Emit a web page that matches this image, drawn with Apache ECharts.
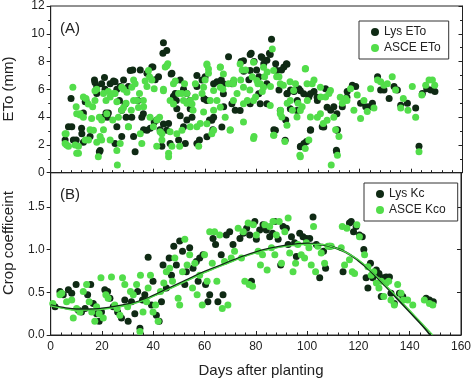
<!DOCTYPE html>
<html>
<head>
<meta charset="utf-8">
<script src="https://cdn.jsdelivr.net/npm/echarts@6/dist/echarts.min.js"></script>
<style>html,body{margin:0;padding:0;background:#fff}#c{width:474px;height:381px}</style>
</head>
<body>
<div id="c"></div>
<script>
// ---- DATA ----
const xTicks = [0, 20, 40, 60, 80, 100, 120, 140, 160];
const etoTicks = [0, 2, 4, 6, 8, 10, 12];
const kcTicks = [0.0, 0.5, 1.0, 1.5];

const lysETo = [
[5.6,2.35],[6.9,3.3],[7.9,5.35],[8.2,3.3],[8.8,2.35],[9.9,2.35],[12.1,2.8],[12.7,4.3],[13.4,5.1],[15.3,2.6],[17.0,6.67],[17.9,6.2],[18.9,1.5],[20.9,6.85],[21.5,4.3],[22.4,4.3],[23.1,6.4],[25.0,6.55],[25.7,6.0],[26.7,5.2],[27.6,2.6],[28.3,6.67],[29.3,4.0],[30.2,6.2],[31.9,7.4],[32.2,2.6],[32.8,1.5],[33.9,5.2],[34.8,7.4],[35.4,4.0],[36.1,3.1],[37.4,7.15],[38.7,3.2],[39.7,7.6],[40.6,6.7],[41.2,3.8],[42.5,3.1],[43.2,1.9],[43.6,8.6],[43.8,9.35],[45.1,8.8],[45.8,3.55],[46.4,2.1],[47.1,7.15],[47.7,5.5],[48.8,5.2],[49.7,2.35],[50.3,6.67],[51.6,6.0],[52.9,3.8],[54.0,5.2],[54.9,4.0],[56.8,6.2],[57.8,2.35],[58.8,6.67],[59.7,5.3],[60.7,5.2],[61.7,3.8],[63.0,3.1],[64.6,6.55],[66.3,6.67],[67.2,4.75],[69.1,8.35],[70.4,6.4],[71.7,4.5],
[74.0,8.0],[75.0,7.3],[77.0,6.7],[77.9,8.6],[79.0,8.0],[80.0,7.4],[80.9,6.9],[81.8,8.35],[82.8,7.85],[84.0,8.1],[85.0,8.6],[85.8,9.6],[86.7,3.1],[87.4,7.85],[88.7,5.95],[89.7,7.4],[90.6,7.6],[91.3,3.8],[91.6,7.85],[91.9,5.7],[93.2,5.95],[94.5,5.85],[95.8,5.2],[96.4,6.05],[97.1,1.9],[98.4,2.1],[99.4,2.25],[100.3,5.45],[101.0,3.1],[102.3,5.85],[103.6,5.2],[105.5,3.3],[106.8,6.05],[108.8,4.5],[110.0,4.75],[111.1,1.5],[111.4,3.1],[113.3,4.75],[115.2,5.85],[117.2,6.3],[118.5,6.2],[120.4,5.0],[122.4,4.75],[123.7,4.75],[125.0,5.0],[127.0,6.9],[128.2,5.95],[129.5,5.95],[131.5,5.35],[133.4,6.2],[134.7,5.95],[136.0,4.85],[138.6,5.0],[141.8,4.65],[143.1,1.9],[144.4,5.7],[146.1,6.05],[147.7,5.95],[149.3,5.85],
[12.0,3.2],[12.7,2.2],[13.7,5.2],[17.2,6.5],[17.9,5.7],[19.2,1.6],[19.8,6.4],[20.5,4.0],[21.1,6.0],[22.0,4.0],[24.4,6.6],[25.0,2.1],[25.7,3.3],[27.0,6.2],[27.6,4.5],[28.9,4.95],[30.9,7.35],[31.5,4.0],[36.0,4.25],[37.4,3.05],[39.3,7.6],[40.2,3.65],[41.9,6.9],[43.8,3.5],[45.1,3.05],[46.8,7.1],[48.4,5.7],[49.0,4.6],[50.3,4.1],[51.6,3.3],[52.3,2.1],[52.9,5.7],[54.2,4.6],[56.8,7.0],[56.8,2.1],
[60.0,6.9],[63.3,6.4],[67.1,6.4],[71.0,6.5],[74.9,8.06],[77.5,8.5],[77.5,7.35],[80.8,5.68],[81.4,4.96],[82.1,8.3],[84.0,6.4],[85.3,8.5],[87.9,7.35],[91.8,7.8],[91.8,5.68],[94.4,5.9],[97.0,5.9],[98.3,5.68],[59.6,5.32],[63.3,4.0],[67.1,5.68],[70.4,4.96],[73.6,4.48],[77.5,4.96],[84.0,4.96],[89.2,4.48],[93.1,4.6],[95.7,4.48],[100.9,5.68],[103.5,5.44],[107.4,4.72],[111.2,4.25],[115.1,5.44],[62.6,3.77],[66.5,3.29],[60.7,2.58],[87.3,3.05],[91.1,2.34],[97.0,1.86],[100.9,3.05],[106.1,3.29],[111.2,3.05],[111.0,1.62]
];
const asceETo = [
[5.6,2.1],[6.0,2.8],[6.9,1.9],[8.6,6.15],[9.9,4.75],[10.1,1.4],[10.8,1.9],[11.4,4.15],[12.7,4.0],[13.7,5.35],[14.7,2.35],[15.3,3.1],[16.3,4.75],[17.2,5.2],[17.9,6.0],[18.9,4.0],[19.8,2.35],[20.5,3.1],[21.5,5.2],[22.4,5.85],[23.1,2.35],[24.1,3.8],[25.0,5.7],[25.7,5.1],[25.9,0.55],[27.0,2.1],[27.6,4.5],[28.3,6.0],[29.3,5.0],[30.2,3.3],[31.3,4.5],[32.2,6.67],[33.5,5.2],[34.5,5.7],[35.4,2.1],[36.1,4.75],[37.4,6.2],[38.4,6.9],[39.3,6.67],[40.2,6.05],[41.2,1.9],[42.3,4.0],[43.2,2.8],[43.8,6.0],[44.5,7.6],[45.5,7.85],[45.8,1.4],[46.4,5.2],[47.1,1.9],[47.7,6.4],[49.0,2.8],[50.1,1.9],[51.0,5.7],[52.0,6.4],[52.9,5.0],[54.2,5.2],[55.3,4.5],[56.2,5.45],[57.5,1.9],[58.1,3.55],[58.8,5.7],[60.0,6.67],[60.7,7.75],[61.3,7.15],[62.6,2.8],[63.3,4.5],[64.6,5.2],[65.9,7.6],[66.9,6.0],[67.8,4.0],[69.1,6.4],[69.8,3.1],[71.1,6.67],[72.4,5.7],
[73.8,6.67],[74.4,7.4],[75.7,7.4],[76.4,5.2],[77.4,5.95],[78.3,6.9],[79.0,2.6],[79.6,5.45],[80.5,6.4],[81.5,6.4],[82.2,5.85],[83.1,6.9],[84.1,7.25],[85.4,6.2],[86.1,8.9],[86.7,2.7],[87.8,6.9],[88.7,6.9],[89.3,4.5],[90.4,6.3],[91.0,2.25],[91.9,5.0],[93.0,6.55],[93.9,4.5],[95.1,6.4],[96.1,5.0],[96.8,1.25],[97.7,4.75],[99.0,7.5],[99.7,5.2],[100.3,2.35],[101.6,6.4],[102.3,6.67],[103.6,4.0],[104.9,5.45],[105.9,3.55],[106.8,5.45],[108.1,5.7],[109.0,0.55],[110.0,4.0],[110.7,3.1],[111.4,1.25],[112.0,2.6],[113.3,5.0],[114.6,5.35],[116.5,6.05],[117.8,4.5],[119.1,5.6],[120.4,3.9],[121.7,5.2],[123.0,4.4],[124.3,6.05],[125.6,4.65],[127.0,6.67],[128.2,6.55],[129.5,6.3],[130.8,6.4],[132.7,6.9],[134.0,5.95],[136.0,4.65],[137.0,5.35],[138.8,4.5],[140.5,6.2],[141.8,4.0],[143.1,1.5],[144.2,5.6],[145.7,6.3],[147.0,6.67],[148.3,6.67],[149.2,6.3],
[5.6,2.8],[6.2,2.0],[9.5,2.0],[10.1,4.25],[10.8,1.4],[11.4,4.25],[12.7,5.45],[13.4,2.35],[14.6,4.95],[15.9,3.9],[16.6,3.05],[17.2,5.9],[17.9,2.2],[18.5,1.15],[19.2,2.6],[19.8,3.8],[20.5,5.7],[21.8,4.25],[23.1,5.45],[24.4,5.7],[25.7,1.6],[26.3,4.0],[27.6,6.15],[28.3,4.7],[29.6,5.8],[30.2,3.3],[31.5,6.15],[32.2,5.2],[32.8,6.4],[34.1,4.7],[34.8,2.8],[36.0,5.2],[36.7,6.6],[38.0,7.35],[38.6,4.0],[39.9,3.3],[41.2,3.8],[42.5,2.95],[43.2,2.35],[43.8,5.9],[45.1,7.7],[45.8,1.15],[46.4,2.95],[47.7,4.95],[48.4,6.6],[49.7,5.7],[51.0,3.05],[51.6,5.2],[52.9,5.7],[54.2,3.3],[54.9,4.95],[56.2,6.4],[56.8,3.3],
[60.7,7.83],[61.3,7.47],[65.9,7.59],[67.1,7.11],[73.6,7.83],[78.8,7.95],[82.7,7.59],[86.6,7.35],[98.9,7.47],[59.4,6.16],[63.3,5.92],[65.9,6.16],[71.0,6.4],[74.9,6.16],[80.1,6.63],[82.7,6.16],[89.2,6.4],[94.4,5.92],[99.6,6.4],[104.8,6.16],[108.7,5.92],[112.5,5.44],[115.1,5.2],[62.0,5.2],[65.9,4.72],[71.0,5.2],[74.9,4.96],[78.8,5.2],[85.3,4.84],[89.2,4.25],[93.1,5.2],[97.0,4.48],[100.9,4.01],[104.8,4.25],[107.4,3.77],[59.4,4.37],[60.7,3.53],[63.3,3.05],[69.7,3.05],[74.9,3.65],[78.8,2.46],[86.6,2.7],[89.8,4.01],[91.8,3.41],[95.7,4.01],[97.0,1.14],[98.9,1.74]
];
const lysKc = [
[1.7,0.33],[3.6,0.51],[4.9,0.47],[6.9,0.53],[8.2,0.49],[9.9,0.59],[10.8,0.29],[12.0,0.27],[13.4,0.31],[14.4,0.47],[15.6,0.59],[16.6,0.37],[17.9,0.25],[18.9,0.16],[19.8,0.27],[21.1,0.53],[22.2,0.51],[23.1,0.43],[24.4,0.33],[26.1,0.27],[27.6,0.2],[28.9,0.41],[30.2,0.16],[31.5,0.39],[32.8,0.25],[33.9,0.51],[34.8,0.08],[35.8,0.41],[36.7,0.47],[38.0,0.91],[39.3,0.35],[39.9,0.63],[41.2,0.23],[42.3,0.16],[43.2,0.39],[43.8,0.82],[45.1,0.55],[46.2,0.9],[47.1,0.7],[48.0,1.04],[49.0,0.82],[50.3,1.1],[51.4,0.98],[52.3,0.59],[52.9,0.74],[54.2,1.02],[55.5,0.78],[56.8,0.86],[57.5,0.63],[58.1,0.9],[59.4,0.94],[60.4,0.59],[61.3,0.39],[62.0,0.47],[63.3,1.13],[64.3,1.06],[65.2,0.39],[66.5,0.94],[67.2,0.47],[68.5,1.17],[69.8,1.21],[71.1,1.06],
[73.8,1.13],[75.1,1.19],[76.4,1.25],[77.6,1.17],[78.3,0.63],[79.6,1.33],[80.2,1.12],[81.5,1.23],[82.8,1.29],[84.1,1.23],[85.4,1.15],[86.5,1.19],[87.4,1.33],[88.7,1.12],[89.7,0.82],[90.6,1.27],[91.9,1.25],[92.6,1.06],[93.9,1.15],[95.1,1.08],[95.8,0.92],[97.1,1.19],[98.4,1.15],[99.7,1.13],[101.0,1.13],[102.3,1.38],[103.6,1.06],[104.9,0.67],[106.4,0.98],[107.2,0.78],[108.8,1.04],[114.0,0.74],[116.5,1.31],[117.2,1.33],[118.1,1.21],[119.1,1.27],[120.4,1.17],[121.5,1.15],[122.1,1.0],[123.0,0.67],[123.7,0.55],[124.7,0.84],[125.6,0.67],[127.0,0.76],[128.0,0.72],[128.9,0.45],[129.5,0.67],[130.8,0.68],[132.1,0.68],[132.7,0.49],[134.0,0.37],[136.0,0.49],[137.3,0.45],[146.4,0.43],[147.7,0.41],[149.2,0.39]
];
const asceKco = [
[0.8,0.37],[3.6,0.47],[4.3,0.49],[6.2,0.39],[8.2,0.41],[8.8,0.2],[10.1,0.31],[11.4,0.27],[12.7,0.51],[14.0,0.59],[15.0,0.39],[16.0,0.27],[17.2,0.16],[17.9,0.33],[18.9,0.25],[19.6,0.67],[20.5,0.2],[21.5,0.47],[22.4,0.43],[23.7,0.68],[25.0,0.35],[25.9,0.31],[27.0,0.23],[28.0,0.67],[28.9,0.59],[30.0,0.33],[31.1,0.51],[32.2,0.47],[33.5,0.59],[35.0,0.7],[34.8,0.04],[36.0,0.27],[37.4,0.39],[38.0,0.55],[38.9,0.7],[39.9,0.27],[40.9,0.35],[41.9,0.16],[42.8,0.51],[44.1,0.61],[45.1,0.74],[46.4,0.78],[47.5,0.63],[48.4,0.9],[49.7,0.43],[50.3,0.35],[51.4,0.74],[52.3,1.12],[53.2,0.82],[54.2,0.94],[55.3,0.55],[56.2,0.84],[57.1,0.47],[58.1,0.7],[59.1,0.35],[60.0,0.94],[61.0,0.63],[62.0,1.21],[63.0,0.84],[63.9,1.21],[64.8,0.63],[65.9,1.17],[66.9,0.31],[67.8,0.86],[69.1,0.35],[70.4,0.9],[71.7,0.98],
[73.1,1.25],[74.4,0.9],[75.1,1.21],[75.7,0.63],[77.0,1.31],[77.4,0.59],[79.0,1.29],[78.7,0.57],[80.2,1.17],[80.9,0.98],[81.8,0.82],[82.6,0.94],[83.5,1.29],[84.4,0.76],[85.4,1.27],[86.1,1.02],[86.7,1.33],[87.4,0.94],[88.0,1.17],[89.1,1.33],[90.0,0.84],[91.3,1.21],[92.6,1.37],[93.2,0.96],[94.5,0.74],[95.5,0.84],[96.4,1.06],[97.7,0.94],[99.0,0.9],[99.7,1.08],[100.7,1.02],[101.6,0.82],[102.5,1.27],[103.3,0.74],[104.2,1.04],[105.5,0.96],[106.8,0.84],[108.1,1.04],[109.4,1.04],[113.3,1.02],[113.7,1.27],[114.6,0.82],[115.5,1.25],[116.5,0.88],[117.6,0.74],[118.5,0.72],[119.4,1.29],[120.4,1.15],[122.4,0.94],[123.7,0.8],[125.0,0.7],[126.0,0.74],[127.0,0.61],[128.0,0.55],[128.9,0.63],[129.9,0.45],[130.8,0.61],[131.8,0.63],[132.7,0.41],[134.0,0.35],[135.3,0.59],[136.6,0.49],[137.5,0.41],[139.2,0.41],[141.2,0.35],[145.7,0.41],[147.7,0.37],[149.0,0.35]
];
const lysKcFit = [
[0,0.35],[5,0.32],[10,0.3],[15,0.3],[20,0.31],[25,0.33],[30,0.36],[35,0.4],[40,0.46],[45,0.53],[50,0.6],[55,0.67],[60,0.74],[65,0.8],[70,0.86],[75,0.92],[80,0.97],[85,1.01],[90,1.04],[95,1.06],[100,1.07],[105,1.06],[110,1.03],[115,0.97],[120,0.87],[125,0.74],[130,0.59],[135,0.43],[140,0.27],[145,0.11],[148,0.0]
];
const asceKcoFit = [
[0,0.34],[5,0.31],[10,0.29],[15,0.29],[20,0.3],[25,0.32],[30,0.35],[35,0.39],[40,0.45],[45,0.52],[50,0.59],[55,0.66],[60,0.73],[65,0.79],[70,0.85],[75,0.91],[80,0.96],[85,1.0],[90,1.03],[95,1.05],[100,1.06],[105,1.06],[110,1.03],[115,0.97],[120,0.88],[125,0.75],[130,0.6],[135,0.45],[140,0.29],[145,0.13],[149,0.0]
];

// ---- CHART ----
const dark = '#0f2a14';
const green = '#52dd4a';
const font = "'Liberation Sans', Arial, sans-serif";
const chart = echarts.init(document.getElementById('c'), null, {renderer: 'canvas'});

function xAx(gi, showLabels) {
  return {
    gridIndex: gi, type: 'value', min: xTicks[0], max: xTicks[xTicks.length - 1], interval: xTicks[1] - xTicks[0],
    axisLine: {show: true, lineStyle: {color: '#222', width: 1}},
    axisTick: {show: true, inside: true, length: 4, lineStyle: {color: '#222'}},
    minorTick: {show: true, splitNumber: 5, length: 2.5, lineStyle: {color: '#222'}},
    splitLine: {show: false},
    axisLabel: {show: showLabels, fontSize: 12, color: '#222', fontFamily: font, margin: 6}
  };
}
function yAx(gi, ticks, pos, showLabels, minorSplit, dec) {
  return {
    gridIndex: gi, type: 'value', position: pos, min: ticks[0], max: gi === 0 ? ticks[ticks.length - 1] : 1.9,
    interval: ticks[1] - ticks[0],
    axisLine: {show: true, onZero: false, lineStyle: {color: '#222', width: 1}},
    axisTick: {show: true, inside: pos === 'right', length: 4, lineStyle: {color: '#222'}},
    minorTick: {show: minorSplit > 0, splitNumber: minorSplit || 2, length: 2.5, lineStyle: {color: '#222'}},
    splitLine: {show: false},
    axisLabel: {
      show: showLabels, fontSize: 12, color: '#222', fontFamily: font, margin: 6, showMaxLabel: gi === 0,
      formatter: function (v) {
        if (ticks.indexOf(+v.toFixed(2)) < 0) return '';
        return dec ? v.toFixed(dec) : String(v);
      }
    }
  };
}

const option = {
  animation: false,
  backgroundColor: '#fff',
  textStyle: {fontFamily: font},
  grid: [
    {left: 50.7, right: 11.5, top: 5, height: 167.7, show: true, borderColor: '#222', borderWidth: 1},
    {left: 50.7, right: 11.5, top: 172.7, height: 162.3, show: true, borderColor: '#222', borderWidth: 1}
  ],
  xAxis: [xAx(0, false), xAx(1, true)],
  yAxis: [
    yAx(0, etoTicks, 'left', true, 2, 0),
    yAx(0, etoTicks, 'right', false, 2, 0),
    yAx(1, kcTicks, 'left', true, 0, 1),
    yAx(1, kcTicks, 'right', false, 0, 1)
  ],
  legend: [
    {data: ['Lys ETo', 'ASCE ETo'], left: 359, top: 21, orient: 'vertical', itemWidth: 8, itemHeight: 8, itemGap: 4,
     padding: [5, 8, 5, 12], borderColor: '#333', borderWidth: 1, backgroundColor: '#fff',
     textStyle: {fontSize: 12, color: '#222', fontFamily: font}},
    {data: ['Lys Kc', 'ASCE Kco'], left: 364, top: 183, orient: 'vertical', itemWidth: 8, itemHeight: 8, itemGap: 4,
     padding: [5, 12, 5, 12], borderColor: '#333', borderWidth: 1, backgroundColor: '#fff',
     textStyle: {fontSize: 12, color: '#222', fontFamily: font}}
  ],
  graphic: [
    {type: 'text', left: 60, top: 21, style: {text: '(A)', fontSize: 15, fill: '#222', fontFamily: font}},
    {type: 'text', left: 60, top: 187, style: {text: '(B)', fontSize: 15, fill: '#222', fontFamily: font}},
    {type: 'text', x: 9, y: 89, rotation: Math.PI / 2, style: {text: 'ETo (mm)', fontSize: 15, fill: '#222', fontFamily: font, align: 'center', verticalAlign: 'middle'}},
    {type: 'text', x: 9, y: 243, rotation: Math.PI / 2, style: {text: 'Crop coefficeint', fontSize: 15, fill: '#222', fontFamily: font, align: 'center', verticalAlign: 'middle'}},
    {type: 'text', x: 261, y: 371, style: {text: 'Days after planting', fontSize: 15, fill: '#222', fontFamily: font, align: 'center', verticalAlign: 'middle'}}
  ],
  series: [
    {name: 'Lys ETo', type: 'scatter', xAxisIndex: 0, yAxisIndex: 0, data: lysETo, symbol: 'circle', symbolSize: 7, itemStyle: {color: dark, opacity: 1}},
    {name: 'ASCE ETo', type: 'scatter', xAxisIndex: 0, yAxisIndex: 0, data: asceETo, symbol: 'circle', symbolSize: 7, itemStyle: {color: green, opacity: 1}},
    {name: 'Lys Kc', type: 'scatter', xAxisIndex: 1, yAxisIndex: 2, data: lysKc, symbol: 'circle', symbolSize: 7, itemStyle: {color: dark, opacity: 1}},
    {name: 'ASCE Kco', type: 'scatter', xAxisIndex: 1, yAxisIndex: 2, data: asceKco, symbol: 'circle', symbolSize: 7, itemStyle: {color: green, opacity: 1}},
    {name: 'Lys Kc fit', type: 'line', xAxisIndex: 1, yAxisIndex: 2, data: lysKcFit, smooth: true, showSymbol: false, symbol: 'none', lineStyle: {color: dark, width: 2}, z: 3},
    {name: 'ASCE Kco fit', type: 'line', xAxisIndex: 1, yAxisIndex: 2, data: asceKcoFit, smooth: true, showSymbol: false, symbol: 'none', lineStyle: {color: green, width: 1.2}, z: 3}
  ]
};
chart.setOption(option);
</script>
</body>
</html>
